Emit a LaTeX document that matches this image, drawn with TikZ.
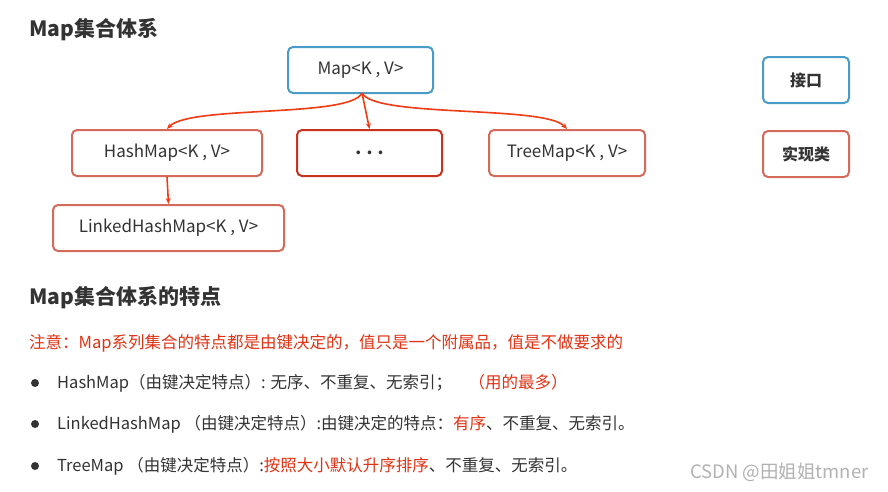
\documentclass[tikz,border=0pt]{standalone}
\usepackage{fontspec}
\setmainfont{Noto Sans CJK SC}
\usetikzlibrary{arrows.meta}
\definecolor{blu}{HTML}{4A9CC8}
\definecolor{rbox}{HTML}{D46A5A}
\definecolor{rdark}{HTML}{C8321E}
\definecolor{arr}{HTML}{F03C14}
\definecolor{txt}{HTML}{333333}
\definecolor{red2}{HTML}{E03214}
\tikzset{
 box/.style={draw=rbox,line width=2pt,rounded corners=5pt,fill=white,font=\fontsize{17}{19}\selectfont,text=txt,inner sep=0pt},
 bluebox/.style={box,draw=blu},
 con/.style={draw=arr,line width=1.6pt,-{Stealth[length=6pt,width=5pt]}},
 ttl/.style={anchor=west,font=\fontsize{21}{24}\selectfont\bfseries,text=txt},
 body/.style={anchor=west,font=\fontsize{16.5}{19}\selectfont,text=txt,inner sep=0pt},
 dot/.style={circle,fill=txt,minimum size=8pt,inner sep=0pt},
}
\begin{document}
\begin{tikzpicture}[x=1pt,y=-1pt]
\useasboundingbox[fill=white] (0,0) rectangle (888,491);
\node[ttl] (t1) at (26,30) {Map集合体系};
\node[bluebox,minimum width=145pt,minimum height=46pt] (map) at (360.5,70) {Map<K , V>};
\node[box,minimum width=190pt,minimum height=46pt] (hm) at (167,153) {HashMap<K , V>};
\node[box,draw=rdark,minimum width=145pt,minimum height=46pt,font=\bfseries\fontsize{17}{19}\selectfont] (dots) at (369.5,153) {. . .};
\node[box,minimum width=156pt,minimum height=46pt] (tm) at (567,153) {TreeMap<K , V>};
\node[box,minimum width=231pt,minimum height=46pt] (lhm) at (168.5,228) {LinkedHashMap<K , V>};
\node[bluebox,minimum width=86pt,minimum height=46pt,font=\bfseries\fontsize{16}{19}\selectfont] (jk) at (806,80) {接口};
\node[box,minimum width=86pt,minimum height=46pt,font=\bfseries\fontsize{16}{19}\selectfont] (sx) at (806,154) {实现类};
\coordinate (mb) at (362,93);
\draw[con] (mb) .. controls (350,118) and (190,105) .. (hm.north);
\draw[con] (mb) -- (dots.north);
\draw[con] (mb) .. controls (375,118) and (545,105) .. (tm.north);
\draw[con] (hm.south) -- (lhm.north);
\node[ttl] (t2) at (26,298) {Map集合体系的特点};
\node[body,text=red2] (n) at (29,343) {注意：Map系列集合的特点都是由键决定的，值只是一个附属品，值是不做要求的};
\node[dot] (d1) at (35,383) {};
\node[dot] (d2) at (35,424) {};
\node[dot] (d3) at (35,466) {};
\node[body] (b1) at (57,383) {HashMap（由键决定特点）: 无序、不重复、无索引；\quad\textcolor{red2}{（用的最多）}};
\node[body] (b2) at (57,424) {LinkedHashMap （由键决定特点）:由键决定的特点：\textcolor{red2}{有序}、不重复、无索引。};
\node[body] (b3) at (57,466) {TreeMap （由键决定特点）:\textcolor{red2}{按照大小默认升序排序}、不重复、无索引。};
\node[anchor=west,font=\fontsize{18.5}{21}\selectfont,text=black!30,inner sep=0pt] (wm) at (690,472) {CSDN @田姐姐tmner};
\end{tikzpicture}
\end{document}
